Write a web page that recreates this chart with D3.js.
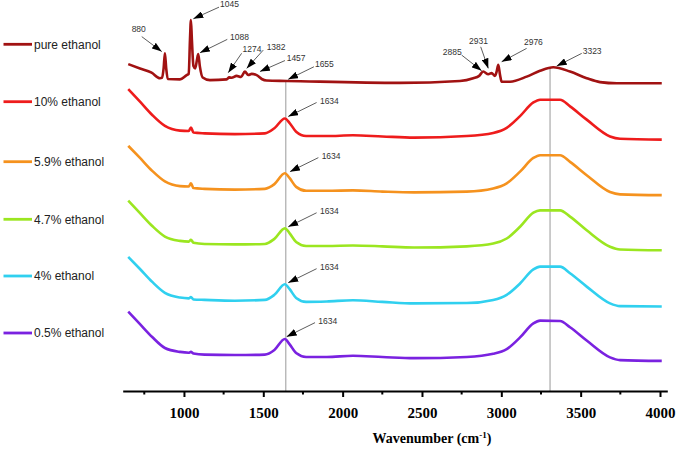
<!DOCTYPE html>
<html>
  <head>
    <title>FTIR spectra of ethanol solutions</title>
    <script src="https://d3js.org/d3.v7.min.js"></script>
    <style>
      body { margin: 0; background: #fff; }
      .spectrum { fill: none; stroke-width: 2.6px; stroke-linejoin: round; }
      .legend text { font: 12px "Liberation Sans", Arial, sans-serif; fill: #222; }
      .anno text { font: 8.5px "Liberation Sans", Arial, sans-serif; fill: #333; }
      .anno line { stroke: #333; stroke-width: 0.8px; }
      .refline { stroke: #999; stroke-width: 1px; }
      .axis path, .axis line { stroke: #000; stroke-width: 2px; }
      .title { font: bold 14px "Liberation Serif", "Times New Roman", serif; fill: #000; }
    </style>
  </head>
  <body>
    <div id="chart"></div>

    <script>
      // Series names and colours
      const names = ["pure ethanol", "10% ethanol", "5.9% ethanol", "4.7% ethanol", "4% ethanol", "0.5% ethanol"];
      const colors = ["#a11212", "#ee1c1c", "#f5921e", "#9be620", "#30d0ef", "#7a22e0"];

      // Pure ethanol spectrum (wavenumber, stacked intensity a.u.)
      const ethanolWn = [649, 723, 796, 849, 862, 872, 880, 888, 898, 975, 1017, 1030, 1038, 1044, 1050, 1060,
        1071, 1082, 1090, 1100, 1118, 1164, 1269, 1285, 1300, 1332, 1360, 1384, 1405, 1427, 1458, 1490, 1521,
        1647, 2361, 2739, 2823, 2860, 2886, 2918, 2939, 2960, 2970, 2981, 2992, 3002, 3055, 3160, 3244, 3327,
        3433, 3538, 3622, 3728, 4011];
      const ethanol = [83.6, 82.5, 81.4, 80.0, 80.1, 82.6, 86.4, 82.6, 79.8, 79.7, 80.8, 81.1, 89.8, 94.9, 89.8, 83.1,
        82.5, 84.7, 86.2, 83.1, 80.2, 79.5, 79.7, 80.2, 80.1, 80.6, 80.3, 81.7, 80.8, 81.1, 80.8, 79.8, 79.4,
        79.3, 78.8, 79.3, 80.0, 80.6, 81.7, 81.0, 81.3, 80.6, 81.6, 83.4, 80.8, 79.1, 79.1, 80.4, 81.9, 82.8,
        81.7, 80.0, 79.0, 78.7, 78.7];

      // Aqueous solutions, shared wavenumber grid
      const waterWn = [649, 723, 800, 880, 975, 1030, 1044, 1060, 1130, 1320, 1510, 1570, 1636, 1665, 1707, 1770,
        1900, 2065, 2250, 2450, 2782, 2949, 3034, 3118, 3202, 3244, 3370, 3433, 3538, 3685, 3748, 4011];
      const eth10 = [77.2, 74.0, 70.6, 67.8, 66.6, 66.5, 67.4, 66.1, 65.9, 65.7, 65.9, 67.2, 69.7, 68.6, 66.3, 65.2,
        65.2, 65.4, 65.1, 64.8, 65.2, 66.0, 67.3, 70.3, 73.8, 74.5, 74.5, 72.8, 69.4, 65.1, 64.5, 64.3];
      const eth59 = [62.7, 59.6, 56.3, 53.6, 52.4, 52.3, 53.1, 51.9, 51.7, 51.5, 51.7, 52.9, 55.7, 54.5, 52.2, 51.2,
        51.2, 51.3, 51.0, 50.8, 51.0, 51.8, 53.1, 56.1, 59.6, 60.3, 60.3, 58.6, 55.2, 50.9, 50.3, 50.1];
      const eth47 = [48.7, 45.5, 42.2, 39.5, 38.4, 38.2, 38.7, 37.9, 37.6, 37.5, 37.6, 38.9, 41.6, 40.4, 38.1, 37.1,
        37.1, 37.2, 37.0, 36.7, 37.0, 37.7, 39.0, 42.0, 45.6, 46.2, 46.2, 44.6, 41.1, 36.9, 36.2, 36.0];
      const eth4 = [34.3, 31.2, 27.9, 25.1, 23.9, 23.7, 24.0, 23.4, 23.3, 23.1, 23.3, 24.6, 27.3, 26.1, 23.8, 22.8,
        22.9, 23.2, 22.8, 22.4, 22.5, 23.3, 24.6, 27.5, 31.1, 31.8, 31.8, 30.1, 26.7, 22.4, 21.7, 21.6];
      const eth05 = [20.3, 17.1, 13.8, 11.0, 10.0, 9.8, 10.0, 9.6, 9.3, 9.2, 9.3, 10.5, 13.3, 12.0, 9.7, 8.7,
        8.7, 9.0, 8.7, 8.4, 8.7, 9.5, 10.7, 13.7, 17.3, 18.0, 17.9, 16.3, 12.9, 8.6, 7.9, 7.7];

      // Axis ticks
      const majorTicks = [1000, 1500, 2000, 2500, 3000, 3500, 4000];
      const minorTicks = [750, 1250, 1750, 2250, 2750, 3250, 3750];

      // Reference lines (wavenumber, top intensity)
      const refWn = [1642, 3307];
      const refTop = [79.3, 82.6];

      // Peak labels on the pure ethanol trace
      const peakLabels = ["880", "1045", "1088", "1274", "1382", "1457", "1655", "2885", "2931", "2976", "3323"];
      const peakTipWn = [860, 1059, 1101, 1279, 1395, 1479, 1657, 2876, 2918, 3002, 3349];
      const peakTipV = [86.8, 95.2, 86.5, 81.4, 82.5, 81.7, 79.7, 81.9, 82.5, 84.2, 83.1];
      // 1634 band on the aqueous traces
      const bandTipWn = [1657, 1668, 1657, 1657, 1647];
      const bandTipV = [70.2, 56.1, 42.0, 27.7, 13.9];

      const seriesData = [
        ethanolWn.map((w, i) => [w, ethanol[i]]),
        waterWn.map((w, i) => [w, eth10[i]]),
        waterWn.map((w, i) => [w, eth59[i]]),
        waterWn.map((w, i) => [w, eth47[i]]),
        waterWn.map((w, i) => [w, eth4[i]]),
        waterWn.map((w, i) => [w, eth05[i]])
      ];

      // label layout: tail offset from tip, text anchor and offset from tail
      const peakLayout = [
        { tail: [-20, -15], anchor: "middle", t: [-3, -4.4] },
        { tail: [25.7, -11.6], anchor: "start", t: [1, 0.3] },
        { tail: [27.3, -13.4], anchor: "start", t: [2.7, 1] },
        { tail: [13.4, -19.4], anchor: "start", t: [1, -1.3] },
        { tail: [16.6, -18.3], anchor: "start", t: [3.4, 0.3] },
        { tail: [25, -11], anchor: "start", t: [1.7, 0.6] },
        { tail: [25.7, -12.6], anchor: "start", t: [1, 0.3] },
        { tail: [-20, -15.7], anchor: "end", t: [0, -0.3] },
        { tail: [-7.6, -21.6], anchor: "middle", t: [-2.2, -3] },
        { tail: [25, -13.4], anchor: "start", t: [-2.7, -3.6] },
        { tail: [25, -12.7], anchor: "start", t: [1, 0.4] }
      ];
      const legendY = [44.3, 101.7, 161.7, 219.3, 276, 333];

      const width = 685, height = 451;
      const axisY = 391;

      const svg = d3.select("#chart")
        .append("svg")
        .attr("width", width)
        .attr("height", height);

      const x = d3.scaleLinear().domain([614, 4046]).range([122.7, 667.3]);
      const y = d3.scaleLinear().domain([0, 100]).range([axisY, 0]);

      svg.append("defs").append("marker")
        .attr("id", "arrow")
        .attr("markerUnits", "userSpaceOnUse")
        .attr("markerWidth", 10)
        .attr("markerHeight", 7)
        .attr("refX", 10)
        .attr("refY", 3.5)
        .attr("orient", "auto")
        .append("path")
        .attr("d", "M0,0 L10,3.5 L0,7 Z")
        .attr("fill", "#000");

      // Reference lines
      svg.selectAll(".refline")
        .data(refWn)
        .enter()
        .append("line")
        .attr("class", "refline")
        .attr("x1", d => x(d))
        .attr("x2", d => x(d))
        .attr("y1", (d, i) => y(refTop[i]))
        .attr("y2", axisY);

      // Spectra
      const line = d3.line()
        .x(d => x(d[0]))
        .y(d => y(d[1]))
        .curve(d3.curveMonotoneX);

      svg.selectAll(".spectrum")
        .data(seriesData)
        .enter()
        .append("path")
        .attr("class", "spectrum")
        .attr("stroke", (d, i) => colors[i])
        .attr("d", line);

      // Annotations
      const annos = peakLabels.map((t, i) => ({
        text: t, wn: peakTipWn[i], v: peakTipV[i], lay: peakLayout[i]
      }));
      bandTipWn.forEach((w, i) => annos.push({
        text: "1634", wn: w, v: bandTipV[i], lay: { tail: [28.4, -14], anchor: "start", t: [3.3, 1] }
      }));

      const anno = svg.selectAll(".anno")
        .data(annos)
        .enter()
        .append("g")
        .attr("class", "anno");

      anno.append("line")
        .attr("x1", d => x(d.wn) + d.lay.tail[0])
        .attr("y1", d => y(d.v) + d.lay.tail[1])
        .attr("x2", d => x(d.wn))
        .attr("y2", d => y(d.v))
        .attr("marker-end", "url(#arrow)");

      anno.append("text")
        .attr("x", d => x(d.wn) + d.lay.tail[0] + d.lay.t[0])
        .attr("y", d => y(d.v) + d.lay.tail[1] + d.lay.t[1])
        .attr("text-anchor", d => d.lay.anchor)
        .text(d => d.text);

      // Legend
      const legend = svg.selectAll(".legend")
        .data(names)
        .enter()
        .append("g")
        .attr("class", "legend")
        .attr("transform", (d, i) => `translate(0,${legendY[i]})`);

      legend.append("line")
        .attr("x1", 3.5)
        .attr("x2", 32)
        .attr("stroke", (d, i) => colors[i])
        .attr("stroke-width", 2.8);

      legend.append("text")
        .attr("x", 34)
        .attr("dy", "0.35em")
        .text(d => d);

      // X axis
      const gx = svg.append("g")
        .attr("class", "axis")
        .attr("transform", `translate(0,${axisY})`);

      gx.call(d3.axisBottom(x)
        .tickValues(majorTicks)
        .tickFormat(d3.format("d"))
        .tickSize(6)
        .tickSizeOuter(0)
        .tickPadding(10));

      gx.selectAll(".tick text")
        .style("font-family", '"Liberation Serif", "Times New Roman", serif')
        .style("font-size", "15px")
        .style("font-weight", "bold")
        .style("fill", "#000");

      gx.selectAll(".minor")
        .data(minorTicks)
        .enter()
        .append("line")
        .attr("class", "minor")
        .attr("x1", d => x(d))
        .attr("x2", d => x(d))
        .attr("y1", 0)
        .attr("y2", 3.5);

      const title = svg.append("text")
        .attr("class", "title")
        .attr("x", 432)
        .attr("y", 443)
        .attr("text-anchor", "middle");
      title.append("tspan").text("Wavenumber (cm");
      title.append("tspan").attr("dy", -5).attr("font-size", "9px").text("-1");
      title.append("tspan").attr("dy", 5).text(")");
    </script>
  </body>
</html>
